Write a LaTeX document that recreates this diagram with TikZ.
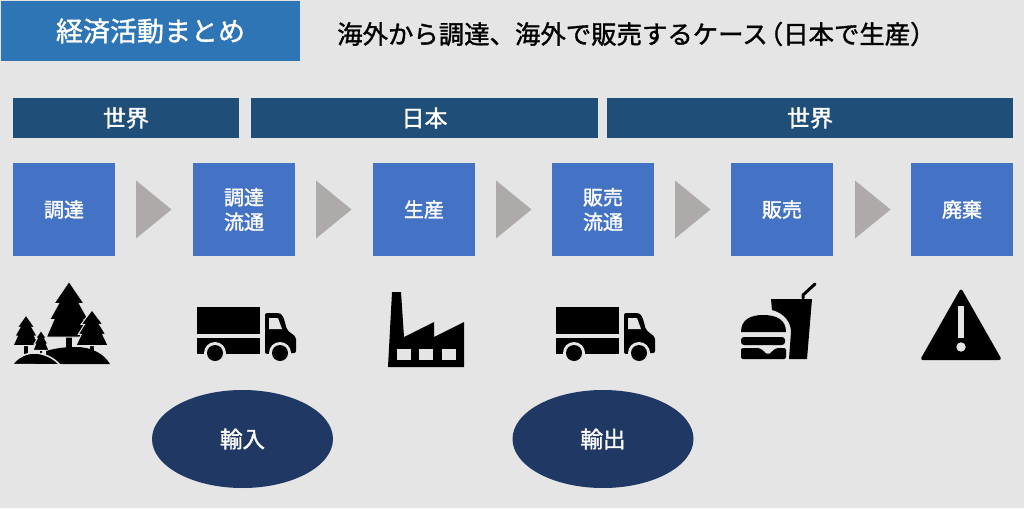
\documentclass[tikz,border=0pt]{standalone}
\usepackage{fontspec}
\setmainfont{Noto Sans CJK JP}
\usetikzlibrary{shapes.geometric}

\definecolor{kBack}{HTML}{E5E5E5}
\definecolor{kTitle}{HTML}{2E75B6}
\definecolor{kHead}{HTML}{1F4E79}
\definecolor{kStep}{HTML}{4472C4}
\definecolor{kPort}{HTML}{1F3864}
\definecolor{kArrow}{HTML}{AEAAAA}

\newcommand{\medweight}{\special{pdf:code 2 Tr 0.35 w}}

\tikzset{
  headbox/.style={fill=kHead,text=white,minimum height=40pt,inner sep=0pt,font=\fontsize{23}{27}\selectfont\medweight},
  stepbox/.style={fill=kStep,text=white,minimum width=102pt,minimum height=93pt,inner sep=0pt,align=center,
    font=\fontsize{20}{24.7}\selectfont\medweight},
  portnode/.style={ellipse,fill=kPort,text=white,minimum width=181pt,minimum height=98pt,inner sep=0pt,
    font=\fontsize{22.5}{26}\selectfont\medweight},
  pics/truck/.style={code={
    \fill[black] (0,0) rectangle (63,27);
    \fill[black] (0,31) rectangle (63,47);
    \fill[black,rounded corners=2pt] (68,47) -- (68,6) -- (79,6) .. controls (86,6) and (87,12) .. (90,23) -- (99,30) -- (99,46) -- cycle;
    \fill[kBack] (72,11) -- (81,11) -- (85,22) -- (72,22) -- cycle;
    \fill[kBack] (18,46) circle (11);
    \fill[kBack] (83,46) circle (11);
    \fill[black] (18,46) circle (8);
    \fill[black] (83,46) circle (8);
  }},
  pics/pine/.style={code={
    \fill[black] (-0.07,0.9) rectangle (0.07,#1);
    \fill[black,draw=kBack,line width=1pt] (0,-0.03) -- (-0.36,0.39) -- (-0.25,0.39) -- (-0.46,0.69) -- (-0.36,0.69) -- (-0.54,1.02)
      -- (0.54,1.02) -- (0.36,0.69) -- (0.46,0.69) -- (0.25,0.39) -- (0.36,0.39) -- cycle;
  }},
}

\begin{document}
\begin{tikzpicture}[x=1pt,y=-1pt]

  \fill[kBack] (0,0) rectangle (1024,508);

  \node[fill=kTitle,text=white,minimum width=299pt,minimum height=60pt,inner sep=0pt,
    font=\fontsize{27}{31}\selectfont\medweight] (title) at (150.5,31) {経済活動まとめ};
  \node[font=\fontsize{25.4}{29}\selectfont\medweight,anchor=west,inner sep=0pt] (case) at (337,34) {海外から調達、海外で販売するケース\hspace{-10pt}（日本で生産）};

  \node[headbox,minimum width=226pt] (world1) at (126,118) {世界};
  \node[headbox,minimum width=347pt] (japan) at (424.5,118) {日本};
  \node[headbox,minimum width=406pt] (world2) at (810,118) {世界};

  \node[stepbox] (procure) at (64,209.5) {\raisebox{1pt}{調達}};
  \node[stepbox] (inbound) at (244,209.5) {調達\\流通};
  \node[stepbox] (make) at (424,209.5) {\raisebox{1pt}{生産}};
  \node[stepbox] (outbound) at (603,209.5) {販売\\流通};
  \node[stepbox] (sell) at (782,209.5) {\raisebox{1pt}{販売}};
  \node[stepbox] (waste) at (962,209.5) {\raisebox{1pt}{廃棄}};

  \foreach \x in {136,316,496,675,855}
    \fill[kArrow] (\x,180.5) -- (\x+35.5,209.5) -- (\x,238.5) -- cycle;

  % forest
  \begin{scope}[shift={(69,283)},x=42pt,y=-53pt]
    \pic {pine=1.26};
  \end{scope}
  \begin{scope}[shift={(92,311)},x=30pt,y=-34pt]
    \pic {pine=1.3};
  \end{scope}
  \begin{scope}[shift={(26,316)},x=24pt,y=-29pt]
    \pic {pine=1.5};
  \end{scope}
  \begin{scope}[shift={(41,331)},x=15pt,y=-19pt]
    \pic {pine=1.3};
  \end{scope}
  \fill[black] (46,364) -- (46,351) .. controls (56,348) and (66,347) .. (76,347) .. controls (92,347) and (104,354) .. (110,364) -- cycle;
  \fill[black,draw=kBack,line width=1.5pt] (12,364.5) .. controls (18,357) and (26,353) .. (34,353) .. controls (44,353) and (54,358) .. (60,365) -- cycle;
  \fill[kBack] (40,364.2) rectangle (62,366);

  \pic at (197,307) {truck};
  \pic at (556,307) {truck};

  % factory
  \fill[black] (388,367) -- (392,292) -- (401,292) -- (404,337) -- (434,322) -- (434,337) -- (464,322) -- (464,367) -- cycle;
  \foreach \x in {397,419,442}
    \fill[kBack] (\x,349) rectangle (\x+14,360);

  % burger and drink
  \fill[black] (771,299) -- (812,299) -- (807,359) -- (789,359) -- (791,332) .. controls (791,322) and (784,313) .. (772,310) -- cycle;
  \draw[black,line width=3pt,line cap=round] (803,298) -- (803,295) -- (815,284);
  \fill[black] (741,332) .. controls (741,320) and (750,315) .. (763,315) .. controls (777,315) and (786,320) .. (786,332) -- cycle;
  \fill[black,rounded corners=3pt] (741,337) rectangle (785,345);
  \fill[black,rounded corners=2pt] (741,348) -- (760,348) -- (768,355) -- (776,348) -- (786,348) -- (786,359) -- (741,359) -- cycle;

  % warning
  \fill[black,rounded corners=3pt] (961,288) -- (1002,360) -- (920,360) -- cycle;
  \fill[kBack] (958,306) rectangle (964,338);
  \fill[kBack] (961,347) circle (4.7);

  \node[portnode] (import) at (242.5,439) {\raisebox{1pt}{輸入}};
  \node[portnode] (export) at (603,439) {\raisebox{1pt}{輸出}};

\end{tikzpicture}
\end{document}
